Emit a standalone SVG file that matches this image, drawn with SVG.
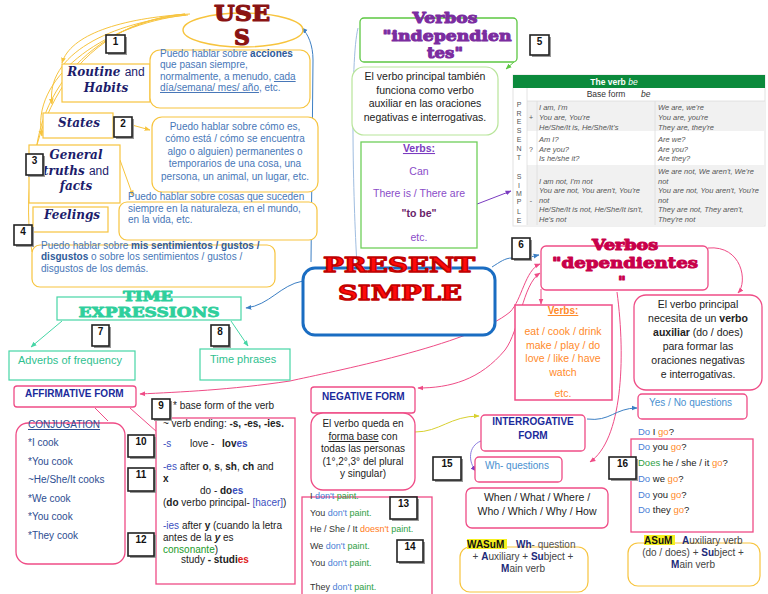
<svg xmlns="http://www.w3.org/2000/svg" width="768" height="594" viewBox="0 0 768 594">
<defs>
<style>
text{font-family:"Liberation Sans",Arial,sans-serif;}
.h{font-family:"DejaVu Serif","Liberation Serif",serif;font-weight:bold;stroke-linejoin:round;}
.hi{font-family:"DejaVu Serif","Liberation Serif",serif;font-weight:bold;font-style:italic;fill:#1c1c6b;font-size:12px;text-anchor:middle}
.ybox{fill:#fff;stroke:#f7c43e;stroke-width:1.2}
.pbox{fill:#fff;stroke:#ef4c86;stroke-width:1.3}
.tbox{fill:#fff;stroke:#46d6a6;stroke-width:1.2}
.desc{fill:#4877b8;font-size:10px}
.nb .s{fill:#999}
.nb .f{fill:#fff;stroke:#222;stroke-width:1.6}
.nb text{font-size:10px;font-weight:bold;text-anchor:middle;fill:#111}
.cy{fill:none;stroke:#f7c43e;stroke-width:1}
.cp{fill:none;stroke:#ef4c86;stroke-width:1}
.cb{fill:none;stroke:#3c7fc4;stroke-width:1}
.ct{fill:none;stroke:#46d6a6;stroke-width:1}
.tb{font-size:7.5px;font-style:italic;fill:#555}
.vl{font-size:7px;fill:#555;text-anchor:middle}
.blk{fill:#222;font-size:10px}
.nvb{fill:#1b2a9b;font-weight:bold;font-size:10px}
.cj{fill:#2d4d91;font-size:10px}
</style>
<marker id="ay" viewBox="0 0 10 10" refX="9" refY="5" markerWidth="6" markerHeight="6" orient="auto-start-reverse"><path d="M0,1 L10,5 L0,9 z" fill="#f7c43e"/></marker>
<marker id="ap" viewBox="0 0 10 10" refX="9" refY="5" markerWidth="6" markerHeight="6" orient="auto-start-reverse"><path d="M0,1 L10,5 L0,9 z" fill="#ef4c86"/></marker>
<marker id="ab" viewBox="0 0 10 10" refX="9" refY="5" markerWidth="6" markerHeight="6" orient="auto-start-reverse"><path d="M0,1 L10,5 L0,9 z" fill="#3c7fc4"/></marker>
<marker id="at" viewBox="0 0 10 10" refX="9" refY="5" markerWidth="6" markerHeight="6" orient="auto-start-reverse"><path d="M0,1 L10,5 L0,9 z" fill="#46d6a6"/></marker>
<marker id="au" viewBox="0 0 10 10" refX="9" refY="5" markerWidth="6" markerHeight="6" orient="auto-start-reverse"><path d="M0,1 L10,5 L0,9 z" fill="#7b3cc0"/></marker>
<marker id="ag" viewBox="0 0 10 10" refX="9" refY="5" markerWidth="6" markerHeight="6" orient="auto-start-reverse"><path d="M0,1 L10,5 L0,9 z" fill="#5cc742"/></marker>
<marker id="ayl" viewBox="0 0 10 10" refX="9" refY="5" markerWidth="6" markerHeight="6" orient="auto-start-reverse"><path d="M0,1 L10,5 L0,9 z" fill="#d8d030"/></marker>
</defs>
<rect width="768" height="594" fill="#fff"/>

<g id="connectors">
<path class="cy" d="M190,14 C120,18 70,35 62,63" marker-end="url(#ay)"/>
<path class="cy" d="M188,15 C110,22 45,55 52,104" marker-end="url(#ay)"/>
<path class="cy" d="M186,15 C100,25 30,80 42,136" marker-end="url(#ay)"/>
<path class="cy" d="M185,14 C80,25 20,110 38,203" marker-end="url(#ay)"/>
<path class="cy" d="M185,14 C60,25 15,150 32,252"/>
<path class="cy" d="M132,125 L150,130" marker-end="url(#ay)"/>
<path class="cy" d="M120,160 L133,196" marker-end="url(#ay)"/>
<path class="cb" d="M311,262 L313,60 C313,45 308,34 302,28" marker-end="url(#ab)"/>
<path fill="none" stroke="#9fbde0" stroke-width="1" d="M358,28 C350,60 353,200 357,265"/>
<path class="cb" d="M492,267 C500,262 505,258 512,258 M530,257 L539,255" marker-end="url(#ab)"/>
<path class="cb" d="M303,281 C280,285 270,305 246,308" marker-end="url(#ab)"/>
<path class="ct" d="M62,321 L31,347" marker-end="url(#at)"/>
<path class="ct" d="M231,321 L248,346" marker-end="url(#at)"/>
<path fill="none" stroke="#7b3cc0" stroke-width="1" d="M446,216 L511,191" marker-end="url(#au)"/>
<path fill="none" stroke="#5cc742" stroke-width="1" d="M514,62 L506,69" marker-end="url(#ag)"/>
<path class="cp" d="M540,264 C525,270 522,300 510,312 C470,345 330,372 290,381 C230,390 180,392 140,394" marker-start="url(#ap)" marker-end="url(#ap)"/>
<path class="cp" d="M540,273 C522,285 520,330 505,350 C480,380 450,388 418,388" marker-start="url(#ap)" marker-end="url(#ap)"/>
<path class="cp" d="M541,289 L541,304" marker-end="url(#ap)"/>
<path class="cp" d="M708,248 C742,245 748,282 738,293" marker-end="url(#ap)"/>
<path class="cp" d="M617,292 C626,360 622,440 590,462" marker-end="url(#ap)"/>
<path class="cp" d="M95,408 L108,421"/>
<path class="cp" d="M130,408 L157,432"/>
<path fill="none" stroke="#d8d030" stroke-width="1" d="M415,432 C440,432 450,416 479,416" marker-end="url(#ayl)"/>
<path class="cb" d="M587,419 C610,422 615,408 637,408" marker-end="url(#ab)"/>
<path fill="none" stroke="#8c7ce0" stroke-width="1" d="M481,441 C468,446 468,462 476,471" marker-end="url(#au)"/>
</g>

<g id="uses">
<ellipse cx="243" cy="30" rx="60" ry="17" fill="none" stroke="#f7c43e" stroke-width="1.4"/>
<text class="h" x="242" y="21" font-size="22" fill="#8a1313" stroke="#8a1313" stroke-width="1.2" text-anchor="middle" textLength="56" lengthAdjust="spacingAndGlyphs">USE</text>
<text class="h" x="242" y="45" font-size="22" fill="#8a1313" stroke="#8a1313" stroke-width="1.2" text-anchor="middle">S</text>
</g>

<g id="routine">
<rect class="ybox" x="62" y="64" width="88" height="38"/>
<text class="hi" x="106" y="76">Routine <tspan font-family="Liberation Sans,sans-serif" font-style="normal" font-weight="normal" fill="#1c1c6b">and</tspan></text>
<text class="hi" x="106" y="92">Habits</text>
</g>
<g id="desc1">
<rect class="ybox" x="150" y="50" width="160" height="58" rx="10"/>
<text class="desc" x="160" y="57"><tspan>Puedo hablar sobre </tspan><tspan font-weight="bold" fill="#2f5b9a">acciones</tspan></text>
<text class="desc" x="160" y="68">que pasan siempre,</text>
<text class="desc" x="160" y="80">normalmente, a menudo, <tspan text-decoration="underline">cada</tspan></text>
<text class="desc" x="160" y="91"><tspan text-decoration="underline">día/semana/ mes/ año</tspan>, etc.</text>
</g>
<g id="states">
<rect class="ybox" x="43" y="113" width="70" height="25"/>
<text class="hi" x="79" y="127">States</text>
</g>
<g id="desc2">
<rect class="ybox" x="152" y="117" width="166" height="75" rx="10"/>
<text class="desc" x="235" y="130" text-anchor="middle">Puedo hablar sobre cómo es,</text>
<text class="desc" x="235" y="142" text-anchor="middle">cómo está / cómo se encuentra</text>
<text class="desc" x="235" y="155" text-anchor="middle">algo o alguien) permanentes o</text>
<text class="desc" x="235" y="167" text-anchor="middle">temporarios de una cosa, una</text>
<text class="desc" x="235" y="180" text-anchor="middle">persona, un animal, un lugar, etc.</text>
</g>
<g id="general">
<rect class="ybox" x="29" y="145" width="91" height="58"/>
<text class="hi" x="76" y="159">General</text>
<text class="hi" x="76" y="175">truths <tspan font-family="Liberation Sans,sans-serif" font-style="normal" font-weight="normal">and</tspan></text>
<text class="hi" x="76" y="190">facts</text>
</g>
<g id="desc3">
<rect class="ybox" x="119" y="202" width="198" height="38" rx="8"/>
<text class="desc" x="128" y="200">Puedo hablar sobre cosas que suceden</text>
<text class="desc" x="128" y="212">siempre en la naturaleza, en el mundo,</text>
<text class="desc" x="128" y="223">en la vida, etc.</text>
</g>
<g id="feelings">
<rect class="ybox" x="33" y="207" width="75" height="25"/>
<text class="hi" x="72" y="219">Feelings</text>
</g>
<g id="desc4">
<rect class="ybox" x="32" y="245" width="243" height="42" rx="8"/>
<text class="desc" x="41" y="249">Puedo hablar sobre <tspan font-weight="bold" fill="#2f5b9a">mis sentimientos / gustos /</tspan></text>
<text class="desc" x="41" y="260"><tspan font-weight="bold" fill="#2f5b9a">disgustos</tspan> o sobre los sentimientos / gustos /</text>
<text class="desc" x="41" y="272">disgustos de los demás.</text>
</g>

<g id="time">
<rect class="tbox" x="57" y="297" width="184" height="23"/>
<text class="h" x="148" y="301" font-size="12" fill="#2fcf9c" stroke="#2fcf9c" stroke-width="0.8" text-anchor="middle" textLength="50" lengthAdjust="spacingAndGlyphs">TIME</text>
<text class="h" x="149" y="317" font-size="13" fill="#2fcf9c" stroke="#2fcf9c" stroke-width="0.8" text-anchor="middle" textLength="141" lengthAdjust="spacingAndGlyphs">EXPRESSIONS</text>
</g>
<g id="adverbs">
<rect class="tbox" x="9" y="351" width="126" height="29"/>
<text x="18" y="364" font-size="11" fill="#2fbf8f">Adverbs of frequency</text>
</g>
<g id="phrases">
<rect class="tbox" x="200" y="349" width="90" height="31"/>
<text x="210" y="363" font-size="11" fill="#2fbf8f">Time phrases</text>
</g>

<g id="present">
<rect x="303" y="268" width="192" height="67" rx="12" fill="#fff" stroke="#1a6dc2" stroke-width="3"/>
<text class="h" x="399" y="272" font-size="21" fill="#ff0a0a" stroke="#c00000" stroke-width="1.3" text-anchor="middle" textLength="152" lengthAdjust="spacingAndGlyphs">PRESENT</text>
<text class="h" x="400" y="300" font-size="21" fill="#ff0a0a" stroke="#c00000" stroke-width="1.3" text-anchor="middle" textLength="124" lengthAdjust="spacingAndGlyphs">SIMPLE</text>
</g>

<g id="indep">
<rect x="360" y="18" width="157" height="44" rx="4" fill="#fff" stroke="#5cc742" stroke-width="1.3"/>
<text class="h" x="445" y="23" font-size="15" fill="#7b2ca0" stroke="#7b2ca0" stroke-width="1" text-anchor="middle" textLength="65" lengthAdjust="spacingAndGlyphs">Verbos</text>
<text class="h" x="447" y="41" font-size="15" fill="#7b2ca0" stroke="#7b2ca0" stroke-width="1" text-anchor="middle" textLength="129" lengthAdjust="spacingAndGlyphs">"independien</text>
<text class="h" x="445" y="58" font-size="15" fill="#7b2ca0" stroke="#7b2ca0" stroke-width="1" text-anchor="middle" textLength="36" lengthAdjust="spacingAndGlyphs">tes"</text>
</g>
<g id="indep-desc">
<rect x="352" y="67" width="146" height="68" rx="12" fill="#fff" stroke="#b8e59a" stroke-width="1.2"/>
<text x="425" y="80" font-size="10.5" fill="#222" text-anchor="middle">El verbo principal también</text>
<text x="425" y="94" font-size="10.5" fill="#222" text-anchor="middle">funciona como verbo</text>
<text x="425" y="107" font-size="10.5" fill="#222" text-anchor="middle">auxiliar en las oraciones</text>
<text x="425" y="121" font-size="10.5" fill="#222" text-anchor="middle">negativas e interrogativas.</text>
</g>
<g id="indep-verbs">
<rect x="361" y="142" width="116" height="106" fill="#fff" stroke="#6fcf5a" stroke-width="1.3"/>
<text x="419" y="152" font-size="10.5" fill="#7b3cc0" font-weight="bold" text-anchor="middle" text-decoration="underline">Verbs:</text>
<text x="419" y="175" font-size="10.5" fill="#8a4cc8" text-anchor="middle">Can</text>
<text x="419" y="197" font-size="10.5" fill="#8a4cc8" text-anchor="middle">There is / There are</text>
<text x="419" y="217" font-size="10.5" fill="#6a1e6a" font-weight="bold" text-anchor="middle">"to be"</text>
<text x="419" y="241" font-size="10.5" fill="#8a4cc8" text-anchor="middle">etc.</text>
</g>

<g id="table">
<rect x="513" y="75" width="252" height="151" fill="#fff" stroke="#e2e2e2"/>
<rect x="513" y="75" width="252" height="13" fill="#0b8a3c"/>
<text x="614" y="85" fill="#fff" font-size="8.5" font-weight="bold" text-anchor="middle">The verb <tspan font-style="italic" font-weight="normal">be</tspan></text>
<text x="606" y="97" font-size="8.5" fill="#333" text-anchor="middle">Base form</text>
<text x="641" y="97" font-size="8.5" fill="#333" font-style="italic">be</text>
<rect x="527" y="101" width="238" height="30" fill="#f1f1f1"/>
<rect x="527" y="165" width="238" height="60" fill="#f1f1f1"/>
<path d="M527,88 V225 M537,101 V225 M655,101 V225 M527,101 H765" stroke="#ddd" stroke-width="0.8" fill="none"/>
<text class="vl" x="519" y="107">P</text><text class="vl" x="519" y="116">R</text><text class="vl" x="519" y="124">E</text><text class="vl" x="519" y="133">S</text><text class="vl" x="519" y="142">E</text><text class="vl" x="519" y="151">N</text><text class="vl" x="519" y="160">T</text>
<text class="vl" x="519" y="179">S</text><text class="vl" x="519" y="188">I</text><text class="vl" x="519" y="196">M</text><text class="vl" x="519" y="204">P</text><text class="vl" x="519" y="214">L</text><text class="vl" x="519" y="223">E</text>
<text class="vl" x="531" y="120">+</text><text class="vl" x="531" y="152">?</text><text class="vl" x="531" y="203">-</text>
<text class="tb" x="539" y="110">I am, I'm</text>
<text class="tb" x="539" y="120">You are, You're</text>
<text class="tb" x="539" y="130">He/She/It is, He/She/It's</text>
<text class="tb" x="658" y="110">We are, we're</text>
<text class="tb" x="658" y="120">You are, you're</text>
<text class="tb" x="658" y="130">They are, they're</text>
<text class="tb" x="539" y="142">Am I?</text>
<text class="tb" x="539" y="152">Are you?</text>
<text class="tb" x="539" y="161">Is he/she it?</text>
<text class="tb" x="658" y="142">Are we?</text>
<text class="tb" x="658" y="152">Are you?</text>
<text class="tb" x="658" y="161">Are they?</text>
<text class="tb" x="539" y="184">I am not, I'm not</text>
<text class="tb" x="539" y="193">You are not, You aren't, You're</text>
<text class="tb" x="539" y="203">not</text>
<text class="tb" x="539" y="212">He/She/It is not, He/She/It isn't,</text>
<text class="tb" x="539" y="222">He's not</text>
<text class="tb" x="658" y="174">We are not, We aren't, We're</text>
<text class="tb" x="658" y="184">not</text>
<text class="tb" x="658" y="193">You are not, You aren't, You're</text>
<text class="tb" x="658" y="203">not</text>
<text class="tb" x="658" y="212">They are not, They aren't,</text>
<text class="tb" x="658" y="222">They're not</text>
</g>

<g id="dep">
<rect x="541" y="246" width="167" height="44" rx="5" fill="#fff" stroke="#ef4c86" stroke-width="1.3"/>
<text class="h" x="625" y="250" font-size="14" fill="#c8004a" stroke="#c8004a" stroke-width="1" text-anchor="middle" textLength="66" lengthAdjust="spacingAndGlyphs">Verbos</text>
<text class="h" x="625" y="268" font-size="15" fill="#c8004a" stroke="#c8004a" stroke-width="1" text-anchor="middle" textLength="146" lengthAdjust="spacingAndGlyphs">"dependientes</text>
<text class="h" x="622" y="287" font-size="15" fill="#c8004a" stroke="#c8004a" stroke-width="1" text-anchor="middle">"</text>
</g>
<g id="dep-verbs">
<rect x="515" y="305" width="97" height="95" fill="#fff" stroke="#ef4c86" stroke-width="1.5"/>
<text x="563" y="314" font-size="10" fill="#ff8a2a" font-weight="bold" text-anchor="middle" text-decoration="underline">Verbs:</text>
<text x="563" y="335" font-size="10.5" fill="#ff8a2a" text-anchor="middle">eat / cook / drink</text>
<text x="563" y="349" font-size="10.5" fill="#ff8a2a" text-anchor="middle">make / play / do</text>
<text x="563" y="362" font-size="10.5" fill="#ff8a2a" text-anchor="middle">love / like / have</text>
<text x="563" y="376" font-size="10.5" fill="#ff8a2a" text-anchor="middle">watch</text>
<text x="563" y="397" font-size="10.5" fill="#ff8a2a" text-anchor="middle">etc.</text>
</g>
<g id="dep-desc">
<rect x="634" y="295" width="128" height="95" rx="12" fill="#fff" stroke="#ef4c86" stroke-width="1.3"/>
<text x="698" y="308" font-size="10.5" fill="#222" text-anchor="middle">El verbo principal</text>
<text x="698" y="322" font-size="10.5" fill="#222" text-anchor="middle">necesita de un <tspan font-weight="bold">verbo</tspan></text>
<text x="698" y="336" font-size="10.5" fill="#222" text-anchor="middle"><tspan font-weight="bold">auxiliar</tspan> (do / does)</text>
<text x="698" y="350" font-size="10.5" fill="#222" text-anchor="middle">para formar las</text>
<text x="698" y="364" font-size="10.5" fill="#222" text-anchor="middle">oraciones negativas</text>
<text x="698" y="378" font-size="10.5" fill="#222" text-anchor="middle">e interrogativas.</text>
</g>

<g id="affirmative">
<rect class="pbox" x="14" y="386" width="122" height="21" rx="3"/>
<text class="nvb" x="25" y="397">AFFIRMATIVE FORM</text>
</g>
<text x="173" y="409" font-size="10" fill="#222">* base form of the verb</text>
<g id="conjugation">
<rect class="pbox" x="16" y="423" width="109" height="141" rx="12"/>
<text class="cj" x="28" y="428" text-decoration="underline">CONJUGATION</text>
<text class="cj" x="28" y="446">*I cook</text>
<text class="cj" x="28" y="465">*You cook</text>
<text class="cj" x="28" y="483">~He/She/It cooks</text>
<text class="cj" x="28" y="502">*We cook</text>
<text class="cj" x="28" y="520">*You cook</text>
<text class="cj" x="28" y="539">*They cook</text>
</g>
<g id="endings">
<rect class="pbox" x="156" y="418" width="139" height="166"/>
<text class="blk" x="163" y="427">~ verb ending: <tspan font-weight="bold">-s, -es, -ies.</tspan></text>
<text class="blk" x="163" y="447"><tspan fill="#3b4fc0">-s</tspan><tspan x="190">love - </tspan><tspan x="222" font-weight="bold">lov</tspan><tspan font-weight="bold" fill="#3b4fc0">es</tspan></text>
<text class="blk" x="163" y="470"><tspan fill="#3b4fc0">-es</tspan> after <tspan font-weight="bold">o</tspan>, <tspan font-weight="bold">s</tspan>, <tspan font-weight="bold">sh</tspan>, <tspan font-weight="bold">ch</tspan> and</text>
<text class="blk" x="163" y="482" font-weight="bold">x</text>
<text class="blk" x="200" y="494">do - <tspan font-weight="bold">do</tspan><tspan font-weight="bold" fill="#3b4fc0">es</tspan></text>
<text class="blk" x="163" y="506">(<tspan font-weight="bold">do</tspan> verbo principal- <tspan fill="#3b4fc0">[hacer]</tspan>)</text>
<text class="blk" x="163" y="529"><tspan fill="#3b4fc0">-ies</tspan> after <tspan font-weight="bold">y</tspan> (cuando la letra</text>
<text class="blk" x="163" y="541">antes de la <tspan font-weight="bold" font-style="italic">y</tspan> es</text>
<text class="blk" x="163" y="553"><tspan fill="#1a9a2a">consonante</tspan>)</text>
<text class="blk" x="181" y="563">study <tspan font-weight="bold">- studi</tspan><tspan font-weight="bold" fill="#e02020">es</tspan></text>
</g>

<g id="negative">
<rect class="pbox" x="311" y="387" width="104" height="26" rx="3"/>
<text class="nvb" x="322" y="400">NEGATIVE FORM</text>
</g>
<g id="neg-desc">
<rect class="pbox" x="311" y="413" width="104" height="77" rx="12"/>
<text class="blk" x="363" y="427" text-anchor="middle">El verbo queda en</text>
<text class="blk" x="363" y="440" text-anchor="middle"><tspan text-decoration="underline">forma base</tspan> con</text>
<text class="blk" x="363" y="452" text-anchor="middle">todas las personas</text>
<text class="blk" x="363" y="465" text-anchor="middle">(1°,2°,3° del plural</text>
<text class="blk" x="363" y="477" text-anchor="middle">y singular)</text>
</g>
<g id="neg-examples">
<rect class="pbox" x="302" y="497" width="130" height="100"/>
<text x="310" y="499" font-size="9" fill="#333">I <tspan fill="#4a80d6">don't</tspan> <tspan fill="#2ea043">paint.</tspan></text>
<text x="310" y="516" font-size="9" fill="#333">You <tspan fill="#4a80d6">don't</tspan> <tspan fill="#2ea043">paint.</tspan></text>
<text x="310" y="532" font-size="9" fill="#333">He / She / It <tspan fill="#ff7a20">doesn't</tspan> <tspan fill="#2ea043">paint.</tspan></text>
<text x="310" y="549" font-size="9" fill="#333">We <tspan fill="#4a80d6">don't</tspan> <tspan fill="#2ea043">paint.</tspan></text>
<text x="310" y="566" font-size="9" fill="#333">You <tspan fill="#4a80d6">don't</tspan> <tspan fill="#2ea043">paint.</tspan></text>
<text x="310" y="590" font-size="9" fill="#333">They <tspan fill="#4a80d6">don't</tspan> <tspan fill="#2ea043">paint.</tspan></text>
</g>

<g id="interrogative">
<rect class="pbox" x="481" y="415" width="104" height="36" rx="4"/>
<text class="nvb" x="533" y="425" text-anchor="middle">INTERROGATIVE</text>
<text class="nvb" x="533" y="439" text-anchor="middle">FORM</text>
</g>
<g id="wh">
<rect class="pbox" x="475" y="457" width="87" height="25" rx="4"/>
<text x="485" y="469" font-size="10" fill="#4a90d0">Wh- questions</text>
</g>
<g id="whwords">
<rect class="pbox" x="466" y="488" width="142" height="40" rx="6"/>
<text x="537" y="501" font-size="10.5" fill="#222" text-anchor="middle">When / What / Where /</text>
<text x="537" y="515" font-size="10.5" fill="#222" text-anchor="middle">Who / Which / Why / How</text>
</g>
<g id="wasum">
<rect class="ybox" x="460" y="547" width="128" height="45" rx="10"/>
<rect x="467" y="539" width="40" height="10" fill="#f5f020"/>
<text x="467" y="548" font-size="10" fill="#111" font-weight="bold">WASuM</text>
<text x="516" y="548" font-size="10" fill="#555"><tspan fill="#1c2a7a" font-weight="bold">Wh</tspan>- question</text>
<text x="523" y="560" font-size="10" fill="#444" text-anchor="middle">+ <tspan fill="#1c2a7a" font-weight="bold">A</tspan>uxiliary + <tspan fill="#1c2a7a" font-weight="bold">Su</tspan>bject +</text>
<text x="523" y="572" font-size="10" fill="#444" text-anchor="middle"><tspan fill="#1c2a7a" font-weight="bold">M</tspan>ain verb</text>
</g>
<g id="yesno">
<rect class="pbox" x="638" y="394" width="109" height="25" rx="4"/>
<text x="649" y="406" font-size="10" fill="#4a90d0">Yes / No questions</text>
</g>
<text x="638" y="435" font-size="9.5" fill="#222"><tspan fill="#4a80d6">Do</tspan> I <tspan fill="#ff8a2a">go</tspan>?</text>
<g id="yesno-list">
<rect class="pbox" x="631" y="439" width="122" height="93"/>
<text x="638" y="450" font-size="9.5" fill="#222"><tspan fill="#4a80d6">Do</tspan> you <tspan fill="#ff8a2a">go</tspan>?</text>
<text x="638" y="466" font-size="9.5" fill="#222"><tspan fill="#2ea043">Does</tspan> he / she / it <tspan fill="#ff8a2a">go</tspan>?</text>
<text x="638" y="482" font-size="9.5" fill="#222"><tspan fill="#4a80d6">Do</tspan> we <tspan fill="#ff8a2a">go</tspan>?</text>
<text x="638" y="498" font-size="9.5" fill="#222"><tspan fill="#4a80d6">Do</tspan> you <tspan fill="#ff8a2a">go</tspan>?</text>
<text x="638" y="513" font-size="9.5" fill="#222"><tspan fill="#4a80d6">Do</tspan> they <tspan fill="#ff8a2a">go</tspan>?</text>
</g>
<g id="asum">
<rect class="ybox" x="628" y="543" width="132" height="43" rx="10"/>
<rect x="644" y="535" width="31" height="10" fill="#f5f020"/>
<text x="644" y="544" font-size="10" fill="#111" font-weight="bold">ASuM</text>
<text x="682" y="544" font-size="10" fill="#444"><tspan fill="#1c2a7a" font-weight="bold">A</tspan>uxiliary verb</text>
<text x="693" y="556" font-size="10" fill="#444" text-anchor="middle">(do / does) + <tspan fill="#1c2a7a" font-weight="bold">Su</tspan>bject +</text>
<text x="693" y="568" font-size="10" fill="#444" text-anchor="middle"><tspan fill="#1c2a7a" font-weight="bold">M</tspan>ain verb</text>
</g>

<g id="n1" class="nb"><rect class="s" x="108" y="37" width="19" height="18"/><rect class="f" x="106" y="35" width="19" height="18"/><text x="115.5" y="45">1</text></g>
<g id="n2" class="nb"><rect class="s" x="116" y="119" width="18" height="20"/><rect class="f" x="114" y="117" width="18" height="20"/><text x="123" y="127">2</text></g>
<g id="n3" class="nb"><rect class="s" x="28" y="156" width="17" height="21"/><rect class="f" x="26" y="154" width="17" height="21"/><text x="34.5" y="164">3</text></g>
<g id="n4" class="nb"><rect class="s" x="16" y="227" width="18" height="20"/><rect class="f" x="14" y="225" width="18" height="20"/><text x="23" y="235">4</text></g>
<g id="n5" class="nb"><rect class="s" x="532" y="37" width="19" height="20"/><rect class="f" x="530" y="35" width="19" height="20"/><text x="539.5" y="45">5</text></g>
<g id="n6" class="nb"><rect class="s" x="514" y="240" width="18" height="21"/><rect class="f" x="512" y="238" width="18" height="21"/><text x="521" y="248">6</text></g>
<g id="n7" class="nb"><rect class="s" x="94" y="327" width="17" height="21"/><rect class="f" x="92" y="325" width="17" height="21"/><text x="100.5" y="335">7</text></g>
<g id="n8" class="nb"><rect class="s" x="213" y="327" width="18" height="21"/><rect class="f" x="211" y="325" width="18" height="21"/><text x="220" y="335">8</text></g>
<g id="n9" class="nb"><rect class="s" x="154" y="401" width="18" height="20"/><rect class="f" x="152" y="399" width="18" height="20"/><text x="161" y="409">9</text></g>
<g id="n10" class="nb"><rect class="s" x="130" y="437" width="26" height="22"/><rect class="f" x="128" y="435" width="26" height="22"/><text x="141" y="445">10</text></g>
<g id="n11" class="nb"><rect class="s" x="130" y="470" width="26" height="23"/><rect class="f" x="128" y="468" width="26" height="23"/><text x="141" y="478">11</text></g>
<g id="n12" class="nb"><rect class="s" x="130" y="535" width="26" height="23"/><rect class="f" x="128" y="533" width="26" height="23"/><text x="141" y="543">12</text></g>
<g id="n13" class="nb"><rect class="s" x="392" y="499" width="27" height="22"/><rect class="f" x="390" y="497" width="27" height="22"/><text x="403.5" y="507">13</text></g>
<g id="n14" class="nb"><rect class="s" x="399" y="542" width="26" height="22"/><rect class="f" x="397" y="540" width="26" height="22"/><text x="410" y="550">14</text></g>
<g id="n15" class="nb"><rect class="s" x="435" y="459" width="28" height="23"/><rect class="f" x="433" y="457" width="28" height="23"/><text x="447" y="467">15</text></g>
<g id="n16" class="nb"><rect class="s" x="611" y="459" width="27" height="22"/><rect class="f" x="609" y="457" width="27" height="22"/><text x="622.5" y="467">16</text></g>
</svg>
